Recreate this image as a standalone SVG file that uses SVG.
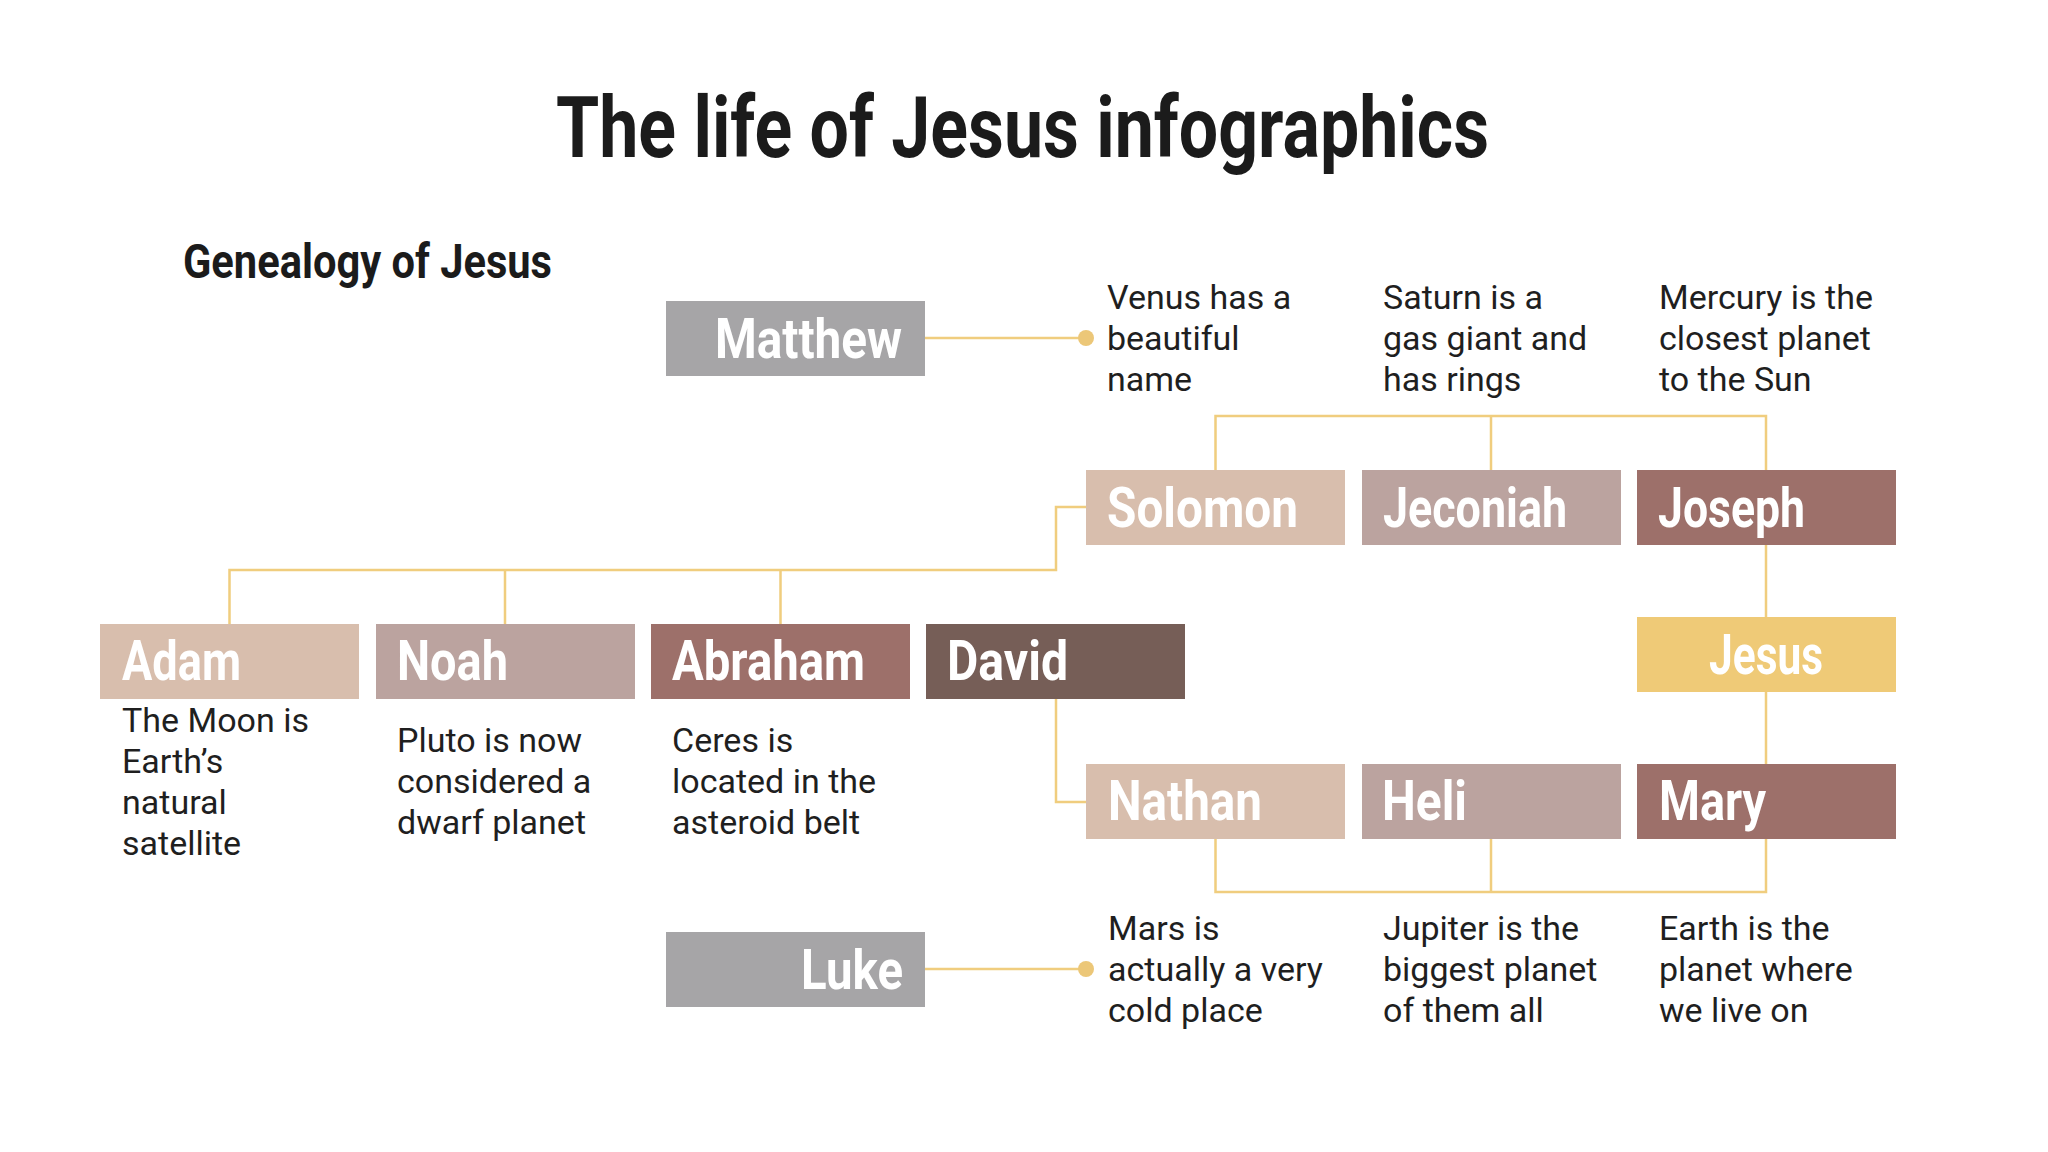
<svg xmlns="http://www.w3.org/2000/svg" width="2048" height="1152" viewBox="0 0 2048 1152">
<style>
.title{font-family:Roboto,"Liberation Sans",sans-serif;font-weight:700;fill:#1b1b1b}
.lbl{font-family:Roboto,"Liberation Sans",sans-serif;font-weight:700;font-size:56px;fill:#ffffff}
.txt{font-family:Roboto,"Liberation Sans",sans-serif;font-size:34px;fill:#1f1f1f}
.con{fill:none;stroke:#f0cd7e;stroke-width:2.5}
.dot{fill:#ecc778}
.c1{fill:#d8bead}
.c2{fill:#bba39f}
.c3{fill:#9d706a}
.c4{fill:#765e57}
.cg{fill:#a6a5a7}
.cy{fill:#efca77}
</style>
<rect width="2048" height="1152" fill="#ffffff"/>
<text class="title" x="556" y="157" font-size="86" textLength="933" lengthAdjust="spacingAndGlyphs">The life of Jesus infographics</text>
<text class="title" x="183" y="278" font-size="49" textLength="369" lengthAdjust="spacingAndGlyphs">Genealogy of Jesus</text>

<g id="connectors">
<path class="con" d="M229.5 624 V570 H1056 V507 H1086"/>
<path class="con" d="M505 570 V624 M780.5 570 V624"/>
<path class="con" d="M1056 699 V802 H1086"/>
<path class="con" d="M1215.5 470 V416 H1766 V470 M1491 416 V470"/>
<path class="con" d="M1766 545 V617 M1766 692 V764"/>
<path class="con" d="M1215.5 839 V892 H1766 V839 M1491 839 V892"/>
<path class="con" d="M925 338 H1086"/>
<circle class="dot" cx="1086" cy="338" r="8"/>
<path class="con" d="M925 969 H1086"/>
<circle class="dot" cx="1086" cy="969" r="8"/>
</g>

<g id="matthew"><rect class="cg" x="666" y="301" width="259" height="75"/><text class="lbl" x="902" y="358" text-anchor="end" textLength="187" lengthAdjust="spacingAndGlyphs">Matthew</text></g>
<g id="luke"><rect class="cg" x="666" y="932" width="259" height="75"/><text class="lbl" x="903" y="989" text-anchor="end" textLength="102" lengthAdjust="spacingAndGlyphs">Luke</text></g>

<g id="adam"><rect class="c1" x="100" y="624" width="259" height="75"/><text class="lbl" x="122" y="680" textLength="119" lengthAdjust="spacingAndGlyphs">Adam</text></g>
<g id="noah"><rect class="c2" x="376" y="624" width="259" height="75"/><text class="lbl" x="397" y="680" textLength="111" lengthAdjust="spacingAndGlyphs">Noah</text></g>
<g id="abraham"><rect class="c3" x="651" y="624" width="259" height="75"/><text class="lbl" x="672" y="680" textLength="193" lengthAdjust="spacingAndGlyphs">Abraham</text></g>
<g id="david"><rect class="c4" x="926" y="624" width="259" height="75"/><text class="lbl" x="947" y="680" textLength="121" lengthAdjust="spacingAndGlyphs">David</text></g>

<g id="solomon"><rect class="c1" x="1086" y="470" width="259" height="75"/><text class="lbl" x="1107" y="527" textLength="191" lengthAdjust="spacingAndGlyphs">Solomon</text></g>
<g id="jeconiah"><rect class="c2" x="1362" y="470" width="259" height="75"/><text class="lbl" x="1383" y="527" textLength="184" lengthAdjust="spacingAndGlyphs">Jeconiah</text></g>
<g id="joseph"><rect class="c3" x="1637" y="470" width="259" height="75"/><text class="lbl" x="1658" y="527" textLength="147" lengthAdjust="spacingAndGlyphs">Joseph</text></g>
<g id="jesus"><rect class="cy" x="1637" y="617" width="259" height="75"/><text class="lbl" x="1766" y="674" text-anchor="middle" textLength="114" lengthAdjust="spacingAndGlyphs">Jesus</text></g>

<g id="nathan"><rect class="c1" x="1086" y="764" width="259" height="75"/><text class="lbl" x="1108" y="820" textLength="154" lengthAdjust="spacingAndGlyphs">Nathan</text></g>
<g id="heli"><rect class="c2" x="1362" y="764" width="259" height="75"/><text class="lbl" x="1382" y="820" textLength="85" lengthAdjust="spacingAndGlyphs">Heli</text></g>
<g id="mary"><rect class="c3" x="1637" y="764" width="259" height="75"/><text class="lbl" x="1659" y="820" textLength="107" lengthAdjust="spacingAndGlyphs">Mary</text></g>

<g id="texts">
<text class="txt" x="1107" y="309">Venus has a</text>
<text class="txt" x="1107" y="350">beautiful</text>
<text class="txt" x="1107" y="391">name</text>
<text class="txt" x="1383" y="309">Saturn is a</text>
<text class="txt" x="1383" y="350">gas giant and</text>
<text class="txt" x="1383" y="391">has rings</text>
<text class="txt" x="1659" y="309">Mercury is the</text>
<text class="txt" x="1659" y="350">closest planet</text>
<text class="txt" x="1659" y="391">to the Sun</text>

<text class="txt" x="122" y="732">The Moon is</text>
<text class="txt" x="122" y="773">Earth’s</text>
<text class="txt" x="122" y="814">natural</text>
<text class="txt" x="122" y="855">satellite</text>
<text class="txt" x="397" y="752">Pluto is now</text>
<text class="txt" x="397" y="793">considered a</text>
<text class="txt" x="397" y="834">dwarf planet</text>
<text class="txt" x="672" y="752">Ceres is</text>
<text class="txt" x="672" y="793">located in the</text>
<text class="txt" x="672" y="834">asteroid belt</text>

<text class="txt" x="1108" y="940">Mars is</text>
<text class="txt" x="1108" y="981">actually a very</text>
<text class="txt" x="1108" y="1022">cold place</text>
<text class="txt" x="1383" y="940">Jupiter is the</text>
<text class="txt" x="1383" y="981">biggest planet</text>
<text class="txt" x="1383" y="1022">of them all</text>
<text class="txt" x="1659" y="940">Earth is the</text>
<text class="txt" x="1659" y="981">planet where</text>
<text class="txt" x="1659" y="1022">we live on</text>
</g>
</svg>
